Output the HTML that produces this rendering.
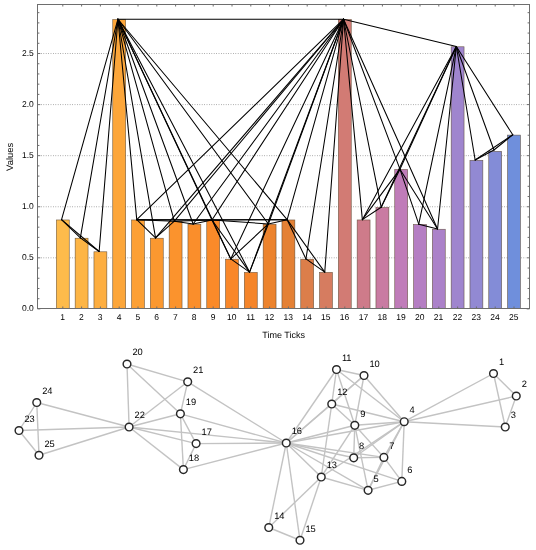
<!DOCTYPE html><html><head><meta charset="utf-8"><title>Visibility graph</title>
<style>html,body{margin:0;padding:0;background:#fff}svg{display:block}text{text-rendering:geometricPrecision;font-family:"Liberation Sans",Arial,sans-serif;fill:#000}.t{font-size:8.5px}.l{font-size:9px}.n{font-size:9.3px}</style></head><body>
<svg width="536" height="550" viewBox="0 0 536 550">
<rect width="536" height="550" fill="#fff"/>
<g stroke="#909090" stroke-width="0.9" stroke-dasharray="0.8 1.6" fill="none">
<line x1="41.0" y1="257.82" x2="526.0" y2="257.82"/>
<line x1="41.0" y1="206.75" x2="526.0" y2="206.75"/>
<line x1="41.0" y1="155.67" x2="526.0" y2="155.67"/>
<line x1="41.0" y1="104.60" x2="526.0" y2="104.60"/>
<line x1="41.0" y1="53.52" x2="526.0" y2="53.52"/>
</g>
<g stroke-width="0.6">
<rect x="56.35" y="219.96" width="12.9" height="88.54" fill="#FDBB4B" stroke="#5a4630" stroke-opacity="0.85"/>
<rect x="75.15" y="238.22" width="12.9" height="70.28" fill="#FDB545" stroke="#5a4630" stroke-opacity="0.85"/>
<rect x="93.95" y="251.79" width="12.9" height="56.71" fill="#FDAE40" stroke="#5a4630" stroke-opacity="0.85"/>
<rect x="112.75" y="19.53" width="12.9" height="288.97" fill="#FCA63A" stroke="#5a4630" stroke-opacity="0.85"/>
<rect x="131.55" y="219.96" width="12.9" height="88.54" fill="#FCA035" stroke="#5a4630" stroke-opacity="0.85"/>
<rect x="150.35" y="238.22" width="12.9" height="70.28" fill="#FB9830" stroke="#5a4630" stroke-opacity="0.85"/>
<rect x="169.15" y="221.49" width="12.9" height="87.01" fill="#FB932D" stroke="#5a4630" stroke-opacity="0.85"/>
<rect x="187.95" y="224.25" width="12.9" height="84.25" fill="#FA8E2B" stroke="#5a4630" stroke-opacity="0.85"/>
<rect x="206.75" y="220.27" width="12.9" height="88.23" fill="#FA8A29" stroke="#5a4630" stroke-opacity="0.85"/>
<rect x="225.55" y="259.23" width="12.9" height="49.27" fill="#F98729" stroke="#5a4630" stroke-opacity="0.85"/>
<rect x="244.35" y="272.39" width="12.9" height="36.11" fill="#F5852A" stroke="#5a4630" stroke-opacity="0.85"/>
<rect x="263.15" y="224.25" width="12.9" height="84.25" fill="#EC832D" stroke="#5a4630" stroke-opacity="0.85"/>
<rect x="281.95" y="219.96" width="12.9" height="88.54" fill="#E48135" stroke="#5a4630" stroke-opacity="0.85"/>
<rect x="300.75" y="259.23" width="12.9" height="49.27" fill="#DC7E4A" stroke="#5a4630" stroke-opacity="0.85"/>
<rect x="319.55" y="272.39" width="12.9" height="36.11" fill="#D67C60" stroke="#5a4630" stroke-opacity="0.85"/>
<rect x="338.35" y="19.53" width="12.9" height="288.97" fill="#D27B74" stroke="#5a4630" stroke-opacity="0.85"/>
<rect x="357.15" y="219.96" width="12.9" height="88.54" fill="#CE7B8A" stroke="#5a4630" stroke-opacity="0.85"/>
<rect x="375.95" y="207.52" width="12.9" height="100.98" fill="#C97BA2" stroke="#5a4630" stroke-opacity="0.85"/>
<rect x="394.75" y="169.47" width="12.9" height="139.03" fill="#C07CB9" stroke="#5a4630" stroke-opacity="0.85"/>
<rect x="413.55" y="224.45" width="12.9" height="84.05" fill="#B57EC3" stroke="#5a4630" stroke-opacity="0.85"/>
<rect x="432.35" y="229.25" width="12.9" height="79.25" fill="#AB81C9" stroke="#5a4630" stroke-opacity="0.85"/>
<rect x="451.15" y="46.77" width="12.9" height="261.73" fill="#9F85CE" stroke="#5a4630" stroke-opacity="0.85"/>
<rect x="469.95" y="160.29" width="12.9" height="148.21" fill="#9289D3" stroke="#5a4630" stroke-opacity="0.85"/>
<rect x="488.75" y="151.32" width="12.9" height="157.18" fill="#838CD7" stroke="#5a4630" stroke-opacity="0.85"/>
<rect x="507.55" y="135.10" width="12.9" height="173.40" fill="#6F8FDC" stroke="#5a4630" stroke-opacity="0.85"/>
</g>
<rect x="37.5" y="4.5" width="492.0" height="304.0" fill="none" stroke="#6e6e6e" stroke-width="1"/>
<g stroke="#6e6e6e" stroke-width="1" fill="none">
<line x1="37.5" y1="308.90" x2="40.3" y2="308.90"/>
<line x1="529.5" y1="308.90" x2="526.7" y2="308.90"/>
<line x1="37.5" y1="298.69" x2="39.4" y2="298.69"/>
<line x1="529.5" y1="298.69" x2="527.6" y2="298.69"/>
<line x1="37.5" y1="288.47" x2="39.4" y2="288.47"/>
<line x1="529.5" y1="288.47" x2="527.6" y2="288.47"/>
<line x1="37.5" y1="278.25" x2="39.4" y2="278.25"/>
<line x1="529.5" y1="278.25" x2="527.6" y2="278.25"/>
<line x1="37.5" y1="268.04" x2="39.4" y2="268.04"/>
<line x1="529.5" y1="268.04" x2="527.6" y2="268.04"/>
<line x1="37.5" y1="257.82" x2="40.3" y2="257.82"/>
<line x1="529.5" y1="257.82" x2="526.7" y2="257.82"/>
<line x1="37.5" y1="247.61" x2="39.4" y2="247.61"/>
<line x1="529.5" y1="247.61" x2="527.6" y2="247.61"/>
<line x1="37.5" y1="237.39" x2="39.4" y2="237.39"/>
<line x1="529.5" y1="237.39" x2="527.6" y2="237.39"/>
<line x1="37.5" y1="227.18" x2="39.4" y2="227.18"/>
<line x1="529.5" y1="227.18" x2="527.6" y2="227.18"/>
<line x1="37.5" y1="216.96" x2="39.4" y2="216.96"/>
<line x1="529.5" y1="216.96" x2="527.6" y2="216.96"/>
<line x1="37.5" y1="206.75" x2="40.3" y2="206.75"/>
<line x1="529.5" y1="206.75" x2="526.7" y2="206.75"/>
<line x1="37.5" y1="196.53" x2="39.4" y2="196.53"/>
<line x1="529.5" y1="196.53" x2="527.6" y2="196.53"/>
<line x1="37.5" y1="186.32" x2="39.4" y2="186.32"/>
<line x1="529.5" y1="186.32" x2="527.6" y2="186.32"/>
<line x1="37.5" y1="176.10" x2="39.4" y2="176.10"/>
<line x1="529.5" y1="176.10" x2="527.6" y2="176.10"/>
<line x1="37.5" y1="165.89" x2="39.4" y2="165.89"/>
<line x1="529.5" y1="165.89" x2="527.6" y2="165.89"/>
<line x1="37.5" y1="155.67" x2="40.3" y2="155.67"/>
<line x1="529.5" y1="155.67" x2="526.7" y2="155.67"/>
<line x1="37.5" y1="145.46" x2="39.4" y2="145.46"/>
<line x1="529.5" y1="145.46" x2="527.6" y2="145.46"/>
<line x1="37.5" y1="135.24" x2="39.4" y2="135.24"/>
<line x1="529.5" y1="135.24" x2="527.6" y2="135.24"/>
<line x1="37.5" y1="125.03" x2="39.4" y2="125.03"/>
<line x1="529.5" y1="125.03" x2="527.6" y2="125.03"/>
<line x1="37.5" y1="114.81" x2="39.4" y2="114.81"/>
<line x1="529.5" y1="114.81" x2="527.6" y2="114.81"/>
<line x1="37.5" y1="104.60" x2="40.3" y2="104.60"/>
<line x1="529.5" y1="104.60" x2="526.7" y2="104.60"/>
<line x1="37.5" y1="94.38" x2="39.4" y2="94.38"/>
<line x1="529.5" y1="94.38" x2="527.6" y2="94.38"/>
<line x1="37.5" y1="84.17" x2="39.4" y2="84.17"/>
<line x1="529.5" y1="84.17" x2="527.6" y2="84.17"/>
<line x1="37.5" y1="73.95" x2="39.4" y2="73.95"/>
<line x1="529.5" y1="73.95" x2="527.6" y2="73.95"/>
<line x1="37.5" y1="63.74" x2="39.4" y2="63.74"/>
<line x1="529.5" y1="63.74" x2="527.6" y2="63.74"/>
<line x1="37.5" y1="53.52" x2="40.3" y2="53.52"/>
<line x1="529.5" y1="53.52" x2="526.7" y2="53.52"/>
<line x1="37.5" y1="43.31" x2="39.4" y2="43.31"/>
<line x1="529.5" y1="43.31" x2="527.6" y2="43.31"/>
<line x1="37.5" y1="33.09" x2="39.4" y2="33.09"/>
<line x1="529.5" y1="33.09" x2="527.6" y2="33.09"/>
<line x1="37.5" y1="22.88" x2="39.4" y2="22.88"/>
<line x1="529.5" y1="22.88" x2="527.6" y2="22.88"/>
<line x1="37.5" y1="12.66" x2="39.4" y2="12.66"/>
<line x1="529.5" y1="12.66" x2="527.6" y2="12.66"/>
<line x1="62.80" y1="4.5" x2="62.80" y2="6.5"/>
<line x1="62.80" y1="308.5" x2="62.80" y2="306.5"/>
<line x1="81.60" y1="4.5" x2="81.60" y2="6.5"/>
<line x1="81.60" y1="308.5" x2="81.60" y2="306.5"/>
<line x1="100.40" y1="4.5" x2="100.40" y2="6.5"/>
<line x1="100.40" y1="308.5" x2="100.40" y2="306.5"/>
<line x1="119.20" y1="4.5" x2="119.20" y2="6.5"/>
<line x1="119.20" y1="308.5" x2="119.20" y2="306.5"/>
<line x1="138.00" y1="4.5" x2="138.00" y2="6.5"/>
<line x1="138.00" y1="308.5" x2="138.00" y2="306.5"/>
<line x1="156.80" y1="4.5" x2="156.80" y2="6.5"/>
<line x1="156.80" y1="308.5" x2="156.80" y2="306.5"/>
<line x1="175.60" y1="4.5" x2="175.60" y2="6.5"/>
<line x1="175.60" y1="308.5" x2="175.60" y2="306.5"/>
<line x1="194.40" y1="4.5" x2="194.40" y2="6.5"/>
<line x1="194.40" y1="308.5" x2="194.40" y2="306.5"/>
<line x1="213.20" y1="4.5" x2="213.20" y2="6.5"/>
<line x1="213.20" y1="308.5" x2="213.20" y2="306.5"/>
<line x1="232.00" y1="4.5" x2="232.00" y2="6.5"/>
<line x1="232.00" y1="308.5" x2="232.00" y2="306.5"/>
<line x1="250.80" y1="4.5" x2="250.80" y2="6.5"/>
<line x1="250.80" y1="308.5" x2="250.80" y2="306.5"/>
<line x1="269.60" y1="4.5" x2="269.60" y2="6.5"/>
<line x1="269.60" y1="308.5" x2="269.60" y2="306.5"/>
<line x1="288.40" y1="4.5" x2="288.40" y2="6.5"/>
<line x1="288.40" y1="308.5" x2="288.40" y2="306.5"/>
<line x1="307.20" y1="4.5" x2="307.20" y2="6.5"/>
<line x1="307.20" y1="308.5" x2="307.20" y2="306.5"/>
<line x1="326.00" y1="4.5" x2="326.00" y2="6.5"/>
<line x1="326.00" y1="308.5" x2="326.00" y2="306.5"/>
<line x1="344.80" y1="4.5" x2="344.80" y2="6.5"/>
<line x1="344.80" y1="308.5" x2="344.80" y2="306.5"/>
<line x1="363.60" y1="4.5" x2="363.60" y2="6.5"/>
<line x1="363.60" y1="308.5" x2="363.60" y2="306.5"/>
<line x1="382.40" y1="4.5" x2="382.40" y2="6.5"/>
<line x1="382.40" y1="308.5" x2="382.40" y2="306.5"/>
<line x1="401.20" y1="4.5" x2="401.20" y2="6.5"/>
<line x1="401.20" y1="308.5" x2="401.20" y2="306.5"/>
<line x1="420.00" y1="4.5" x2="420.00" y2="6.5"/>
<line x1="420.00" y1="308.5" x2="420.00" y2="306.5"/>
<line x1="438.80" y1="4.5" x2="438.80" y2="6.5"/>
<line x1="438.80" y1="308.5" x2="438.80" y2="306.5"/>
<line x1="457.60" y1="4.5" x2="457.60" y2="6.5"/>
<line x1="457.60" y1="308.5" x2="457.60" y2="306.5"/>
<line x1="476.40" y1="4.5" x2="476.40" y2="6.5"/>
<line x1="476.40" y1="308.5" x2="476.40" y2="306.5"/>
<line x1="495.20" y1="4.5" x2="495.20" y2="6.5"/>
<line x1="495.20" y1="308.5" x2="495.20" y2="306.5"/>
<line x1="514.00" y1="4.5" x2="514.00" y2="6.5"/>
<line x1="514.00" y1="308.5" x2="514.00" y2="306.5"/>
</g>
<g class="t" text-anchor="end">
<text x="33.8" y="310.90">0.0</text>
<text x="33.8" y="259.82">0.5</text>
<text x="33.8" y="208.75">1.0</text>
<text x="33.8" y="157.67">1.5</text>
<text x="33.8" y="106.60">2.0</text>
<text x="33.8" y="55.52">2.5</text>
</g>
<g class="t" text-anchor="middle">
<text x="62.60" y="320.3">1</text>
<text x="81.40" y="320.3">2</text>
<text x="100.20" y="320.3">3</text>
<text x="119.00" y="320.3">4</text>
<text x="137.80" y="320.3">5</text>
<text x="156.60" y="320.3">6</text>
<text x="175.40" y="320.3">7</text>
<text x="194.20" y="320.3">8</text>
<text x="213.00" y="320.3">9</text>
<text x="231.80" y="320.3">10</text>
<text x="250.60" y="320.3">11</text>
<text x="269.40" y="320.3">12</text>
<text x="288.20" y="320.3">13</text>
<text x="307.00" y="320.3">14</text>
<text x="325.80" y="320.3">15</text>
<text x="344.60" y="320.3">16</text>
<text x="363.40" y="320.3">17</text>
<text x="382.20" y="320.3">18</text>
<text x="401.00" y="320.3">19</text>
<text x="419.80" y="320.3">20</text>
<text x="438.60" y="320.3">21</text>
<text x="457.40" y="320.3">22</text>
<text x="476.20" y="320.3">23</text>
<text x="495.00" y="320.3">24</text>
<text x="513.80" y="320.3">25</text>
</g>
<text class="l" text-anchor="middle" x="283.6" y="337.5">Time Ticks</text>
<text class="l" style="font-size:9.4px" text-anchor="middle" transform="translate(12.5,156.9) rotate(-90)">Values</text>
<g stroke="#000" stroke-width="1.05" stroke-linecap="round">
<line x1="61.55" y1="219.66" x2="80.35" y2="237.92"/>
<line x1="61.55" y1="219.66" x2="99.15" y2="251.49"/>
<line x1="61.55" y1="219.66" x2="117.95" y2="19.23"/>
<line x1="80.35" y1="237.92" x2="99.15" y2="251.49"/>
<line x1="80.35" y1="237.92" x2="117.95" y2="19.23"/>
<line x1="99.15" y1="251.49" x2="117.95" y2="19.23"/>
<line x1="117.95" y1="19.23" x2="136.75" y2="219.66"/>
<line x1="117.95" y1="19.23" x2="155.55" y2="237.92"/>
<line x1="117.95" y1="19.23" x2="174.35" y2="221.19"/>
<line x1="117.95" y1="19.23" x2="193.15" y2="223.95"/>
<line x1="117.95" y1="19.23" x2="211.95" y2="219.97"/>
<line x1="117.95" y1="19.23" x2="230.75" y2="258.93"/>
<line x1="117.95" y1="19.23" x2="249.55" y2="272.09"/>
<line x1="117.95" y1="19.23" x2="268.35" y2="223.95"/>
<line x1="117.95" y1="19.23" x2="287.15" y2="219.66"/>
<line x1="117.95" y1="19.23" x2="343.55" y2="19.23"/>
<line x1="136.75" y1="219.66" x2="155.55" y2="237.92"/>
<line x1="136.75" y1="219.66" x2="174.35" y2="221.19"/>
<line x1="136.75" y1="219.66" x2="211.95" y2="219.97"/>
<line x1="136.75" y1="219.66" x2="287.15" y2="219.66"/>
<line x1="136.75" y1="219.66" x2="343.55" y2="19.23"/>
<line x1="155.55" y1="237.92" x2="174.35" y2="221.19"/>
<line x1="155.55" y1="237.92" x2="343.55" y2="19.23"/>
<line x1="174.35" y1="221.19" x2="193.15" y2="223.95"/>
<line x1="174.35" y1="221.19" x2="211.95" y2="219.97"/>
<line x1="174.35" y1="221.19" x2="343.55" y2="19.23"/>
<line x1="193.15" y1="223.95" x2="211.95" y2="219.97"/>
<line x1="193.15" y1="223.95" x2="343.55" y2="19.23"/>
<line x1="211.95" y1="219.97" x2="230.75" y2="258.93"/>
<line x1="211.95" y1="219.97" x2="249.55" y2="272.09"/>
<line x1="211.95" y1="219.97" x2="268.35" y2="223.95"/>
<line x1="211.95" y1="219.97" x2="287.15" y2="219.66"/>
<line x1="211.95" y1="219.97" x2="343.55" y2="19.23"/>
<line x1="230.75" y1="258.93" x2="249.55" y2="272.09"/>
<line x1="230.75" y1="258.93" x2="268.35" y2="223.95"/>
<line x1="230.75" y1="258.93" x2="343.55" y2="19.23"/>
<line x1="249.55" y1="272.09" x2="268.35" y2="223.95"/>
<line x1="249.55" y1="272.09" x2="343.55" y2="19.23"/>
<line x1="268.35" y1="223.95" x2="287.15" y2="219.66"/>
<line x1="268.35" y1="223.95" x2="343.55" y2="19.23"/>
<line x1="287.15" y1="219.66" x2="305.95" y2="258.93"/>
<line x1="287.15" y1="219.66" x2="324.75" y2="272.09"/>
<line x1="287.15" y1="219.66" x2="343.55" y2="19.23"/>
<line x1="305.95" y1="258.93" x2="324.75" y2="272.09"/>
<line x1="305.95" y1="258.93" x2="343.55" y2="19.23"/>
<line x1="324.75" y1="272.09" x2="343.55" y2="19.23"/>
<line x1="343.55" y1="19.23" x2="362.35" y2="219.66"/>
<line x1="343.55" y1="19.23" x2="381.15" y2="207.22"/>
<line x1="343.55" y1="19.23" x2="399.95" y2="169.17"/>
<line x1="343.55" y1="19.23" x2="437.55" y2="228.95"/>
<line x1="343.55" y1="19.23" x2="456.35" y2="46.47"/>
<line x1="362.35" y1="219.66" x2="381.15" y2="207.22"/>
<line x1="362.35" y1="219.66" x2="399.95" y2="169.17"/>
<line x1="362.35" y1="219.66" x2="456.35" y2="46.47"/>
<line x1="381.15" y1="207.22" x2="399.95" y2="169.17"/>
<line x1="381.15" y1="207.22" x2="456.35" y2="46.47"/>
<line x1="399.95" y1="169.17" x2="418.75" y2="224.15"/>
<line x1="399.95" y1="169.17" x2="437.55" y2="228.95"/>
<line x1="399.95" y1="169.17" x2="456.35" y2="46.47"/>
<line x1="418.75" y1="224.15" x2="437.55" y2="228.95"/>
<line x1="418.75" y1="224.15" x2="456.35" y2="46.47"/>
<line x1="437.55" y1="228.95" x2="456.35" y2="46.47"/>
<line x1="456.35" y1="46.47" x2="475.15" y2="159.99"/>
<line x1="456.35" y1="46.47" x2="493.95" y2="150.02"/>
<line x1="456.35" y1="46.47" x2="512.75" y2="134.80"/>
<line x1="475.15" y1="159.99" x2="493.95" y2="150.02"/>
<line x1="475.15" y1="159.99" x2="512.75" y2="134.80"/>
<line x1="493.95" y1="150.02" x2="512.75" y2="134.80"/>
</g>
<g stroke="#c3c3c3" stroke-width="1.4">
<line x1="493.5" y1="373.5" x2="516.25" y2="396"/>
<line x1="493.5" y1="373.5" x2="505.25" y2="427"/>
<line x1="493.5" y1="373.5" x2="404.2" y2="421.7"/>
<line x1="516.25" y1="396" x2="505.25" y2="427"/>
<line x1="516.25" y1="396" x2="404.2" y2="421.7"/>
<line x1="505.25" y1="427" x2="404.2" y2="421.7"/>
<line x1="404.2" y1="421.7" x2="368.1" y2="490.3"/>
<line x1="404.2" y1="421.7" x2="401.8" y2="481.4"/>
<line x1="404.2" y1="421.7" x2="383.9" y2="457.4"/>
<line x1="404.2" y1="421.7" x2="353.7" y2="457.8"/>
<line x1="404.2" y1="421.7" x2="354.8" y2="425.3"/>
<line x1="404.2" y1="421.7" x2="364" y2="375.5"/>
<line x1="404.2" y1="421.7" x2="336.5" y2="369.5"/>
<line x1="404.2" y1="421.7" x2="331.75" y2="404"/>
<line x1="404.2" y1="421.7" x2="321.25" y2="477"/>
<line x1="404.2" y1="421.7" x2="286.25" y2="443"/>
<line x1="368.1" y1="490.3" x2="401.8" y2="481.4"/>
<line x1="368.1" y1="490.3" x2="383.9" y2="457.4"/>
<line x1="368.1" y1="490.3" x2="354.8" y2="425.3"/>
<line x1="368.1" y1="490.3" x2="321.25" y2="477"/>
<line x1="368.1" y1="490.3" x2="286.25" y2="443"/>
<line x1="401.8" y1="481.4" x2="383.9" y2="457.4"/>
<line x1="401.8" y1="481.4" x2="286.25" y2="443"/>
<line x1="383.9" y1="457.4" x2="353.7" y2="457.8"/>
<line x1="383.9" y1="457.4" x2="354.8" y2="425.3"/>
<line x1="383.9" y1="457.4" x2="286.25" y2="443"/>
<line x1="353.7" y1="457.8" x2="354.8" y2="425.3"/>
<line x1="353.7" y1="457.8" x2="286.25" y2="443"/>
<line x1="354.8" y1="425.3" x2="364" y2="375.5"/>
<line x1="354.8" y1="425.3" x2="336.5" y2="369.5"/>
<line x1="354.8" y1="425.3" x2="331.75" y2="404"/>
<line x1="354.8" y1="425.3" x2="321.25" y2="477"/>
<line x1="354.8" y1="425.3" x2="286.25" y2="443"/>
<line x1="364" y1="375.5" x2="336.5" y2="369.5"/>
<line x1="364" y1="375.5" x2="331.75" y2="404"/>
<line x1="364" y1="375.5" x2="286.25" y2="443"/>
<line x1="336.5" y1="369.5" x2="331.75" y2="404"/>
<line x1="336.5" y1="369.5" x2="286.25" y2="443"/>
<line x1="331.75" y1="404" x2="321.25" y2="477"/>
<line x1="331.75" y1="404" x2="286.25" y2="443"/>
<line x1="321.25" y1="477" x2="268.75" y2="527.5"/>
<line x1="321.25" y1="477" x2="300" y2="540.25"/>
<line x1="321.25" y1="477" x2="286.25" y2="443"/>
<line x1="268.75" y1="527.5" x2="300" y2="540.25"/>
<line x1="268.75" y1="527.5" x2="286.25" y2="443"/>
<line x1="300" y1="540.25" x2="286.25" y2="443"/>
<line x1="286.25" y1="443" x2="196.1" y2="443.6"/>
<line x1="286.25" y1="443" x2="183.4" y2="469.6"/>
<line x1="286.25" y1="443" x2="180.4" y2="413.8"/>
<line x1="286.25" y1="443" x2="187.7" y2="381.8"/>
<line x1="286.25" y1="443" x2="129.1" y2="427"/>
<line x1="196.1" y1="443.6" x2="183.4" y2="469.6"/>
<line x1="196.1" y1="443.6" x2="180.4" y2="413.8"/>
<line x1="196.1" y1="443.6" x2="129.1" y2="427"/>
<line x1="183.4" y1="469.6" x2="180.4" y2="413.8"/>
<line x1="183.4" y1="469.6" x2="129.1" y2="427"/>
<line x1="180.4" y1="413.8" x2="127" y2="364"/>
<line x1="180.4" y1="413.8" x2="187.7" y2="381.8"/>
<line x1="180.4" y1="413.8" x2="129.1" y2="427"/>
<line x1="127" y1="364" x2="187.7" y2="381.8"/>
<line x1="127" y1="364" x2="129.1" y2="427"/>
<line x1="187.7" y1="381.8" x2="129.1" y2="427"/>
<line x1="129.1" y1="427" x2="19" y2="430.5"/>
<line x1="129.1" y1="427" x2="36.75" y2="402.5"/>
<line x1="129.1" y1="427" x2="39" y2="455.25"/>
<line x1="19" y1="430.5" x2="36.75" y2="402.5"/>
<line x1="19" y1="430.5" x2="39" y2="455.25"/>
<line x1="36.75" y1="402.5" x2="39" y2="455.25"/>
</g>
<g fill="#fff" stroke="#282828" stroke-width="1.45">
<circle cx="493.5" cy="373.5" r="3.85"/>
<circle cx="516.25" cy="396" r="3.85"/>
<circle cx="505.25" cy="427" r="3.85"/>
<circle cx="404.2" cy="421.7" r="3.85"/>
<circle cx="368.1" cy="490.3" r="3.85"/>
<circle cx="401.8" cy="481.4" r="3.85"/>
<circle cx="383.9" cy="457.4" r="3.85"/>
<circle cx="353.7" cy="457.8" r="3.85"/>
<circle cx="354.8" cy="425.3" r="3.85"/>
<circle cx="364" cy="375.5" r="3.85"/>
<circle cx="336.5" cy="369.5" r="3.85"/>
<circle cx="331.75" cy="404" r="3.85"/>
<circle cx="321.25" cy="477" r="3.85"/>
<circle cx="268.75" cy="527.5" r="3.85"/>
<circle cx="300" cy="540.25" r="3.85"/>
<circle cx="286.25" cy="443" r="3.85"/>
<circle cx="196.1" cy="443.6" r="3.85"/>
<circle cx="183.4" cy="469.6" r="3.85"/>
<circle cx="180.4" cy="413.8" r="3.85"/>
<circle cx="127" cy="364" r="3.85"/>
<circle cx="187.7" cy="381.8" r="3.85"/>
<circle cx="129.1" cy="427" r="3.85"/>
<circle cx="19" cy="430.5" r="3.85"/>
<circle cx="36.75" cy="402.5" r="3.85"/>
<circle cx="39" cy="455.25" r="3.85"/>
</g>
<g class="n">
<text x="498.90" y="364.90">1</text>
<text x="521.65" y="387.40">2</text>
<text x="510.65" y="418.40">3</text>
<text x="409.60" y="413.10">4</text>
<text x="373.50" y="481.70">5</text>
<text x="407.20" y="472.80">6</text>
<text x="389.30" y="448.80">7</text>
<text x="359.10" y="449.20">8</text>
<text x="360.20" y="416.70">9</text>
<text x="369.40" y="366.90">10</text>
<text x="341.90" y="360.90">11</text>
<text x="337.15" y="395.40">12</text>
<text x="326.65" y="468.40">13</text>
<text x="274.15" y="518.90">14</text>
<text x="305.40" y="531.65">15</text>
<text x="291.65" y="434.40">16</text>
<text x="201.50" y="435.00">17</text>
<text x="188.80" y="461.00">18</text>
<text x="185.80" y="405.20">19</text>
<text x="132.40" y="355.40">20</text>
<text x="193.10" y="373.20">21</text>
<text x="134.50" y="418.40">22</text>
<text x="24.40" y="421.90">23</text>
<text x="42.15" y="393.90">24</text>
<text x="44.40" y="446.65">25</text>
</g>
</svg></body></html>
